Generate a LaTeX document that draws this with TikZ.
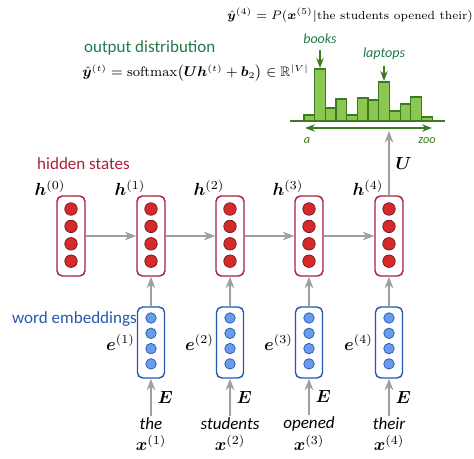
\documentclass[tikz,border=0pt]{standalone}
\usepackage{amsmath,amssymb,bm}
\usepackage{fontspec}
\setsansfont{Carlito}
\usetikzlibrary{arrows.meta,positioning}
\definecolor{hidred}{HTML}{A82038}
\definecolor{dotred}{HTML}{D42A2A}
\definecolor{embblue}{HTML}{2458B0}
\definecolor{dotblue}{HTML}{6A9CEE}
\definecolor{outgreen}{HTML}{23784A}
\definecolor{bargreen}{HTML}{8CC850}
\definecolor{bardark}{HTML}{3C7A24}
\newcommand{\lblfont}{\sffamily\fontsize{9.7}{11}\selectfont}
\newcommand{\eqnfont}{\fontsize{7.8}{9}\selectfont}
\newcommand{\topfont}{\fontsize{6.7}{8}\selectfont}

\begin{document}
\begin{tikzpicture}[x=0.02cm,y=-0.02cm,>=Stealth,
  hbox/.style={draw=hidred,thick,rounded corners=3pt,minimum width=0.56cm,minimum height=1.6cm,inner sep=0pt},
  ebox/.style={draw=embblue,thick,rounded corners=3pt,minimum width=0.54cm,minimum height=1.42cm,inner sep=0pt},
  hdot/.style={circle,draw=hidred!70!black,fill=dotred,minimum size=0.25cm,inner sep=0pt},
  edot/.style={circle,draw=embblue,fill=dotblue,minimum size=0.21cm,inner sep=0pt},
  flow/.style={->,draw=gray!75,thick},
  bar/.style={draw=bardark,fill=bargreen,semithick},
  word/.style={font=\lblfont\itshape,inner sep=1pt}]
  \useasboundingbox (0,0) rectangle (474,459);

  % top formulas
  \node[inner sep=0pt] (prob) at (350,15) {\topfont$\hat{\bm{y}}^{(4)} = P(\bm{x}^{(5)}|\text{the students opened their})$};
  \node[text=outgreen,font=\lblfont,anchor=west,inner sep=1pt] (outlbl) at (82,48) {output distribution};
  \node[anchor=west,inner sep=0pt] (softmax) at (82,73) {\eqnfont$\hat{\bm{y}}^{(t)} = \mathrm{softmax}\big(\bm{U}\bm{h}^{(t)} + \bm{b}_2\big) \in \mathbb{R}^{|V|}$};

  % histogram
  \foreach \t [count=\n from 0] in {115,69,108,99,115,98,100,82,111,104,97,117}
    \draw[bar] ({304+10.67*\n},121) rectangle ({314.67+10.67*\n},\t);
  \draw[bardark,thick] (290,121) -- (445,121);
  \coordinate (va) at (305,128);
  \coordinate (vz) at (432,128);
  \draw[<->,bardark,semithick] (va) -- (vz);
  \node[text=bardark,font=\sffamily\itshape\scriptsize] (wa) at (307,141) {a};
  \node[text=bardark,font=\sffamily\itshape\scriptsize] (wz) at (427,141) {zoo};
  \node[text=outgreen,font=\sffamily\itshape\footnotesize] (books) at (320,39) {books};
  \node[text=outgreen,font=\sffamily\itshape\footnotesize] (laptops) at (384,54) {laptops};
  \coordinate (booktop) at (320,68);
  \coordinate (laptoptop) at (384,81);
  \draw[->,bardark,semithick] (books) -- (booktop);
  \draw[->,bardark,semithick] (laptops) -- (laptoptop);

  % hidden states
  \node[text=hidred,font=\lblfont,anchor=west] (hidlbl) at (31,164) {hidden states};
  \foreach \i/\x in {0/71,1/151,2/230,3/309,4/389} {
    \node[hbox] (h\i) at (\x,236) {};
    \foreach \k in {0,...,3}
      \node[hdot] (h\i-\k) at (\x,{209+17.4*\k}) {};
    \node (hl\i) at (\x-21,188) {$\bm{h}^{(\i)}$};
  }
  \foreach \i/\j in {0/1,1/2,2/3,3/4}
    \draw[flow] (h\i) -- (h\j);

  % output
  \coordinate (dist) at (389,131);
  \draw[flow] (h4) -- node[right] {$\bm{U}$} (dist);

  % word embeddings
  \node[text=embblue,font=\lblfont,anchor=west] (emblbl) at (6,319) {word embeddings};
  \foreach \i/\x/\w in {1/151/the,2/230/students,3/309/opened,4/389/their} {
    \node[ebox] (e\i) at (\x,342.5) {};
    \foreach \k in {0,...,3}
      \node[edot] (e\i-\k) at (\x,{318+15.3*\k}) {};
    \node[left=0pt of e\i,inner sep=1pt] (el\i) {$\bm{e}^{(\i)}$};
    \node[word] (w\i) at (\x,424) {\w};
    \node[inner sep=1pt] (x\i) at (\x,443) {$\bm{x}^{(\i)}$};
    \draw[flow] (e\i) -- (h\i);
    \draw[flow] (w\i) -- node[right] {$\bm{E}$} (e\i);
  }
\end{tikzpicture}
\end{document}
